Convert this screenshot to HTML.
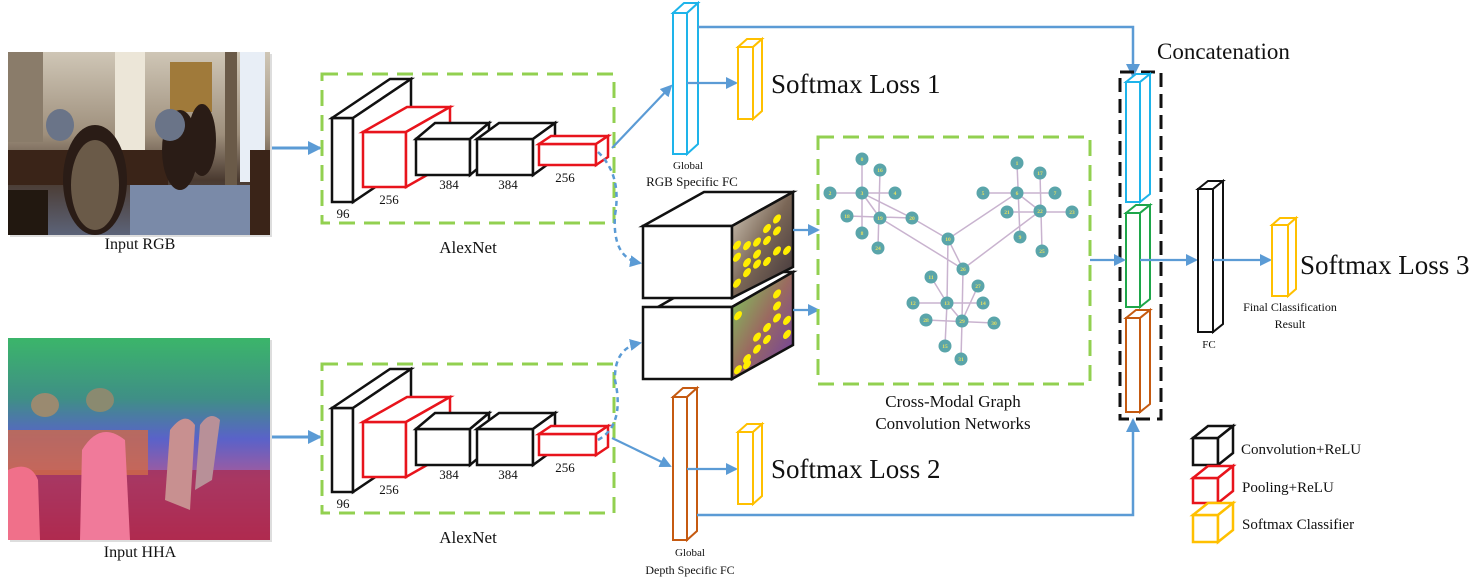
<!DOCTYPE html>
<html><head><meta charset="utf-8"><style>
html,body{margin:0;padding:0;background:#fff;}
svg{display:block;}
text{font-family:"Liberation Serif",serif;fill:#111;}
.s{font-family:"Liberation Serif",serif;}
</style></head><body>
<svg width="1478" height="579" viewBox="0 0 1478 579" xmlns="http://www.w3.org/2000/svg">
<defs>
<marker id="ar" markerWidth="12" markerHeight="12" refX="10" refY="6" orient="auto" markerUnits="userSpaceOnUse"><path d="M0,0 L12,6 L0,12 z" fill="#5b9bd5"/></marker>
<marker id="ar2" markerWidth="14" markerHeight="14" refX="12" refY="7" orient="auto" markerUnits="userSpaceOnUse"><path d="M0,0 L14,7 L0,14 z" fill="#5b9bd5"/></marker>
<linearGradient id="wall" x1="0" y1="0" x2="0" y2="1"><stop offset="0" stop-color="#cfc6b6"/><stop offset="0.45" stop-color="#9e8f7c"/><stop offset="0.7" stop-color="#4a3a30"/><stop offset="1" stop-color="#5c6378"/></linearGradient>
<linearGradient id="hha" x1="0" y1="0" x2="0" y2="1"><stop offset="0" stop-color="#3bb56a"/><stop offset="0.3" stop-color="#3f8f86"/><stop offset="0.5" stop-color="#5a62c9"/><stop offset="0.7" stop-color="#a85a9a"/><stop offset="1" stop-color="#c0305a"/></linearGradient>
<linearGradient id="hhaf" x1="0" y1="0" x2="1" y2="1"><stop offset="0" stop-color="#7bd25a"/><stop offset="0.5" stop-color="#9a6a60"/><stop offset="1" stop-color="#6a3aa8"/></linearGradient>
<linearGradient id="rgbf" x1="0" y1="0" x2="1" y2="1"><stop offset="0" stop-color="#d8d0c0"/><stop offset="0.5" stop-color="#7a6656"/><stop offset="1" stop-color="#3a3038"/></linearGradient>
</defs>

<!-- Input RGB photo -->
<rect x="10" y="54" width="262" height="183" fill="#ddd"/>
<rect x="8" y="52" width="262" height="183" fill="url(#wall)"/>
<rect x="8" y="52" width="35" height="90" fill="#8a7c6a"/>
<rect x="115" y="52" width="30" height="110" fill="#ece6d8"/>
<rect x="225" y="52" width="12" height="150" fill="#6a5a48"/>
<rect x="240" y="52" width="25" height="130" fill="#e8eef6"/>
<rect x="170" y="62" width="42" height="50" fill="#a07a3a"/>
<rect x="8" y="150" width="160" height="35" fill="#3a2418"/>
<rect x="130" y="185" width="120" height="50" fill="#7a8aa8"/>
<ellipse cx="95" cy="180" rx="32" ry="55" fill="#2a1c16"/>
<ellipse cx="95" cy="185" rx="24" ry="45" fill="#6a5a48"/>
<ellipse cx="180" cy="150" rx="18" ry="40" fill="#2a1c16"/>
<ellipse cx="202" cy="140" rx="14" ry="36" fill="#2a1c16"/>
<ellipse cx="60" cy="125" rx="14" ry="16" fill="#6a7488"/>
<ellipse cx="170" cy="125" rx="15" ry="16" fill="#6a7488"/>
<rect x="8" y="190" width="40" height="45" fill="#221810"/>
<rect x="250" y="150" width="20" height="85" fill="#3a2418"/>
<text x="140" y="249" font-size="16" text-anchor="middle">Input RGB</text>

<!-- Input HHA photo -->
<rect x="10" y="340" width="262" height="202" fill="#ddd"/>
<rect x="8" y="338" width="262" height="202" fill="url(#hha)"/>
<rect x="8" y="470" width="262" height="70" fill="#a8284a" opacity="0.7"/>
<rect x="8" y="430" width="140" height="45" fill="#d06a48" opacity="0.8"/>
<path d="M80,540 L82,450 Q100,420 125,440 L130,540 z" fill="#f07a9a"/>
<path d="M8,470 Q30,460 38,480 L40,540 L8,540 z" fill="#f0708a"/>
<path d="M165,500 L170,430 Q185,410 195,425 L190,510 z" fill="#c89090"/>
<path d="M195,490 L200,425 Q210,410 220,420 L212,480 z" fill="#b89098"/>
<ellipse cx="45" cy="405" rx="14" ry="12" fill="#9a8a70"/>
<ellipse cx="100" cy="400" rx="14" ry="12" fill="#8a8a70"/>
<text x="140" y="557" font-size="16" text-anchor="middle">Input HHA</text>

<!-- input arrows -->
<line x1="272" y1="148" x2="320" y2="148" stroke="#5b9bd5" stroke-width="3" marker-end="url(#ar2)"/>
<line x1="272" y1="437" x2="320" y2="437" stroke="#5b9bd5" stroke-width="3" marker-end="url(#ar2)"/>

<!-- AlexNet top -->
<g id="alex">
<rect x="322" y="74" width="292" height="149" fill="none" stroke="#92d050" stroke-width="3" stroke-dasharray="16 9"/>
<g fill="#fff" stroke-width="2.5" stroke-linejoin="miter">
<g stroke="#111"><rect x="332" y="118" width="21" height="84"/><polygon points="332,118 390,79 411,79 353,118"/><polygon points="353,118 411,79 411,163 353,202"/></g>
<g stroke="#e8141c"><rect x="363" y="132" width="43" height="55"/><polygon points="363,132 407,107 450,107 406,132"/><polygon points="406,132 450,107 450,162 406,187"/></g>
<g stroke="#111"><rect x="416" y="139" width="54" height="36"/><polygon points="416,139 435,123 489,123 470,139"/><polygon points="470,139 489,123 489,159 470,175"/></g>
<g stroke="#111"><rect x="477" y="139" width="56" height="36"/><polygon points="477,139 499,123 555,123 533,139"/><polygon points="533,139 555,123 555,159 533,175"/></g>
<g stroke="#e8141c"><rect x="539" y="144" width="57" height="21"/><polygon points="539,144 551,136 608,136 596,144"/><polygon points="596,144 608,136 608,157 596,165"/></g>
</g>
<g font-size="13" text-anchor="middle">
<text x="343" y="218">96</text><text x="389" y="204">256</text><text x="449" y="189">384</text><text x="508" y="189">384</text><text x="565" y="182">256</text>
</g>
<text x="468" y="253" font-size="17" text-anchor="middle">AlexNet</text>
</g>
<use href="#alex" transform="translate(0,290)"/>

<!-- arrows to FCs -->
<line x1="612" y1="148" x2="671" y2="86" stroke="#5b9bd5" stroke-width="2.2" marker-end="url(#ar)"/>
<line x1="612" y1="438" x2="670" y2="466" stroke="#5b9bd5" stroke-width="2.2" marker-end="url(#ar)"/>

<!-- dashed curves -->
<path d="M598,152 Q622,175 615,215 Q612,258 640,263" fill="none" stroke="#5b9bd5" stroke-width="2.5" stroke-dasharray="5 4" marker-end="url(#ar)"/>
<path d="M598,440 Q625,425 615,380 Q614,348 640,343" fill="none" stroke="#5b9bd5" stroke-width="2.5" stroke-dasharray="5 4" marker-end="url(#ar)"/>

<!-- Blue FC top -->
<g fill="#fff" stroke="#1eb4ea" stroke-width="2"><rect x="673" y="13" width="14" height="141"/><polygon points="673,13 684,3 698,3 687,13"/><polygon points="687,13 698,3 698,144 687,154"/></g>
<text x="688" y="169" font-size="11" text-anchor="middle">Global</text>
<text x="692" y="186" font-size="13" text-anchor="middle">RGB Specific FC</text>
<line x1="687" y1="83" x2="736" y2="83" stroke="#5b9bd5" stroke-width="2.2" marker-end="url(#ar)"/>
<g fill="#fff" stroke="#ffc000" stroke-width="2"><rect x="738" y="47" width="15" height="72"/><polygon points="738,47 747,39 762,39 753,47"/><polygon points="753,47 762,39 762,111 753,119"/></g>
<text x="771" y="93" font-size="27" class="s">Softmax  Loss 1</text>
<polyline points="698,27 1133,27 1133,76" fill="none" stroke="#5b9bd5" stroke-width="2.5" marker-end="url(#ar2)"/>

<!-- Orange FC bottom -->
<g fill="#fff" stroke="#c55a11" stroke-width="2"><rect x="673" y="397" width="14" height="143"/><polygon points="673,397 683,388 697,388 687,397"/><polygon points="687,397 697,388 697,531 687,540"/></g>
<text x="690" y="556" font-size="11" text-anchor="middle">Global</text>
<text x="690" y="574" font-size="12" text-anchor="middle">Depth Specific FC</text>
<line x1="687" y1="469" x2="736" y2="469" stroke="#5b9bd5" stroke-width="2.2" marker-end="url(#ar)"/>
<g fill="#fff" stroke="#ffc000" stroke-width="2"><rect x="738" y="432" width="15" height="72"/><polygon points="738,432 747,424 762,424 753,432"/><polygon points="753,432 762,424 762,496 753,504"/></g>
<text x="771" y="478" font-size="27" class="s">Softmax  Loss 2</text>
<polyline points="697,515 1133,515 1133,420" fill="none" stroke="#5b9bd5" stroke-width="2.5" marker-end="url(#ar2)"/>

<!-- middle feature cubes -->
<g stroke="#111" stroke-width="2.5" fill="#fff">
<polygon points="658,307 719,272 793,272 732,307"/>
<rect x="643" y="307" width="89" height="72"/>
<polygon points="732,307 793,272 793,345 732,379" fill="url(#hhaf)"/>
<polygon points="643,226 704,192 793,192 732,226"/>
<rect x="643" y="226" width="89" height="72"/>
<polygon points="732,226 793,192 793,267 732,298" fill="url(#rgbf)"/>
</g>
<g fill="#ffee00">
<g transform="matrix(1,-0.557,0,1,732,226)">
<circle cx="5" cy="22" r="4"/><circle cx="5" cy="34" r="4"/><circle cx="15" cy="28" r="4"/><circle cx="25" cy="30" r="4"/><circle cx="35" cy="22" r="4"/><circle cx="35" cy="34" r="4"/><circle cx="45" cy="30" r="4"/><circle cx="45" cy="18" r="4"/><circle cx="5" cy="60" r="4"/><circle cx="15" cy="55" r="4"/><circle cx="25" cy="52" r="4"/><circle cx="35" cy="55" r="4"/><circle cx="45" cy="50" r="4"/><circle cx="55" cy="55" r="4"/><circle cx="25" cy="42" r="4"/><circle cx="15" cy="45" r="4"/>
</g>
<g transform="matrix(1,-0.557,0,1,732,307)">
<circle cx="6" cy="12" r="4"/><circle cx="45" cy="12" r="4"/><circle cx="45" cy="24" r="4"/><circle cx="45" cy="36" r="4"/><circle cx="35" cy="40" r="4"/><circle cx="25" cy="44" r="4"/><circle cx="35" cy="52" r="4"/><circle cx="25" cy="56" r="4"/><circle cx="15" cy="60" r="4"/><circle cx="55" cy="44" r="4"/><circle cx="6" cy="66" r="4"/><circle cx="15" cy="66" r="4"/><circle cx="55" cy="58" r="4"/>
</g>
</g>
<line x1="793" y1="230" x2="818" y2="230" stroke="#5b9bd5" stroke-width="2.2" marker-end="url(#ar)"/>
<line x1="793" y1="310" x2="818" y2="310" stroke="#5b9bd5" stroke-width="2.2" marker-end="url(#ar)"/>

<!-- Graph box -->
<rect x="818" y="137" width="272" height="247" fill="none" stroke="#92d050" stroke-width="3" stroke-dasharray="16 9"/>
<g stroke="#c9b3cf" stroke-width="1.5">
<line x1="862" y1="159" x2="862" y2="233"/><line x1="830" y1="193" x2="895" y2="193"/>
<line x1="880" y1="170" x2="878" y2="248"/><line x1="847" y1="216" x2="912" y2="218"/>
<line x1="862" y1="193" x2="880" y2="218"/><line x1="862" y1="193" x2="912" y2="218"/>
<line x1="880" y1="218" x2="963" y2="269"/><line x1="912" y1="218" x2="948" y2="239"/>
<line x1="948" y1="239" x2="1017" y2="193"/><line x1="1017" y1="163" x2="1020" y2="237"/>
<line x1="983" y1="193" x2="1055" y2="193"/><line x1="1017" y1="193" x2="1040" y2="211"/>
<line x1="1007" y1="212" x2="1072" y2="212"/><line x1="1040" y1="173" x2="1042" y2="251"/>
<line x1="1040" y1="211" x2="963" y2="269"/><line x1="948" y1="239" x2="947" y2="303"/>
<line x1="948" y1="239" x2="963" y2="269"/><line x1="963" y1="269" x2="962" y2="321"/>
<line x1="931" y1="277" x2="947" y2="303"/><line x1="913" y1="303" x2="983" y2="303"/>
<line x1="947" y1="303" x2="962" y2="321"/><line x1="926" y1="320" x2="994" y2="323"/>
<line x1="947" y1="303" x2="945" y2="346"/><line x1="962" y1="321" x2="961" y2="359"/>
<line x1="978" y1="286" x2="962" y2="321"/>
</g>
<g fill="#5aa5aa">
<circle cx="862" cy="159" r="6.5"/><circle cx="880" cy="170" r="6.5"/><circle cx="862" cy="193" r="6.5"/><circle cx="830" cy="193" r="6.5"/><circle cx="895" cy="193" r="6.5"/><circle cx="847" cy="216" r="6.5"/><circle cx="880" cy="218" r="6.5"/><circle cx="912" cy="218" r="6.5"/><circle cx="862" cy="233" r="6.5"/><circle cx="878" cy="248" r="6.5"/>
<circle cx="1017" cy="163" r="6.5"/><circle cx="1040" cy="173" r="6.5"/><circle cx="983" cy="193" r="6.5"/><circle cx="1017" cy="193" r="6.5"/><circle cx="1055" cy="193" r="6.5"/><circle cx="1007" cy="212" r="6.5"/><circle cx="1040" cy="211" r="6.5"/><circle cx="1072" cy="212" r="6.5"/><circle cx="1020" cy="237" r="6.5"/><circle cx="1042" cy="251" r="6.5"/>
<circle cx="948" cy="239" r="6.5"/><circle cx="963" cy="269" r="6.5"/><circle cx="931" cy="277" r="6.5"/><circle cx="978" cy="286" r="6.5"/><circle cx="913" cy="303" r="6.5"/><circle cx="947" cy="303" r="6.5"/><circle cx="983" cy="303" r="6.5"/><circle cx="926" cy="320" r="6.5"/><circle cx="962" cy="321" r="6.5"/><circle cx="994" cy="323" r="6.5"/><circle cx="945" cy="346" r="6.5"/><circle cx="961" cy="359" r="6.5"/>
</g>
<g font-size="5.5" text-anchor="middle" font-weight="bold">
<text x="862" y="161" style="fill:#e8e060">0</text><text x="880" y="172" style="fill:#e8e060">16</text><text x="862" y="195" style="fill:#e8e060">3</text><text x="830" y="195" style="fill:#e8e060">2</text><text x="895" y="195" style="fill:#e8e060">4</text><text x="847" y="218" style="fill:#e8e060">18</text><text x="880" y="220" style="fill:#e8e060">19</text><text x="912" y="220" style="fill:#e8e060">20</text><text x="862" y="235" style="fill:#e8e060">8</text><text x="878" y="250" style="fill:#e8e060">24</text>
<text x="1017" y="165" style="fill:#e8e060">1</text><text x="1040" y="175" style="fill:#e8e060">17</text><text x="983" y="195" style="fill:#e8e060">5</text><text x="1017" y="195" style="fill:#e8e060">6</text><text x="1055" y="195" style="fill:#e8e060">7</text><text x="1007" y="214" style="fill:#e8e060">21</text><text x="1040" y="213" style="fill:#e8e060">22</text><text x="1072" y="214" style="fill:#e8e060">23</text><text x="1020" y="239" style="fill:#e8e060">9</text><text x="1042" y="253" style="fill:#e8e060">25</text>
<text x="948" y="241" style="fill:#e8e060">10</text><text x="963" y="271" style="fill:#e8e060">26</text><text x="931" y="279" style="fill:#e8e060">11</text><text x="978" y="288" style="fill:#e8e060">27</text><text x="913" y="305" style="fill:#e8e060">12</text><text x="947" y="305" style="fill:#e8e060">13</text><text x="983" y="305" style="fill:#e8e060">14</text><text x="926" y="322" style="fill:#e8e060">28</text><text x="962" y="323" style="fill:#e8e060">29</text><text x="994" y="325" style="fill:#e8e060">30</text><text x="945" y="348" style="fill:#e8e060">15</text><text x="961" y="361" style="fill:#e8e060">31</text>
</g>
<text x="953" y="407" font-size="17" text-anchor="middle">Cross-Modal Graph</text>
<text x="953" y="429" font-size="17" text-anchor="middle">Convolution Networks</text>

<!-- Concatenation -->
<text x="1157" y="59" font-size="23">Concatenation</text>
<rect x="1120" y="72" width="41" height="347" fill="none" stroke="#111" stroke-width="3" stroke-dasharray="14 7"/>
<g fill="#fff" stroke-width="2">
<g stroke="#1eb4ea"><rect x="1126" y="82" width="14" height="120"/><polygon points="1126,82 1136,74 1150,74 1140,82"/><polygon points="1140,82 1150,74 1150,194 1140,202"/></g>
<g stroke="#1ea64a"><rect x="1126" y="213" width="14" height="94"/><polygon points="1126,213 1136,205 1150,205 1140,213"/><polygon points="1140,213 1150,205 1150,299 1140,307"/></g>
<g stroke="#c55a11"><rect x="1126" y="318" width="14" height="94"/><polygon points="1126,318 1136,310 1150,310 1140,318"/><polygon points="1140,318 1150,310 1150,404 1140,412"/></g>
</g>
<line x1="1090" y1="260" x2="1124" y2="260" stroke="#5b9bd5" stroke-width="2.2" marker-end="url(#ar)"/>
<line x1="1140" y1="260" x2="1196" y2="260" stroke="#5b9bd5" stroke-width="2.2" marker-end="url(#ar)"/>
<g fill="#fff" stroke="#111" stroke-width="2"><rect x="1198" y="189" width="15" height="143"/><polygon points="1198,189 1208,181 1223,181 1213,189"/><polygon points="1213,189 1223,181 1223,324 1213,332"/></g>
<text x="1209" y="348" font-size="11" text-anchor="middle">FC</text>
<line x1="1213" y1="260" x2="1270" y2="260" stroke="#5b9bd5" stroke-width="2.2" marker-end="url(#ar)"/>
<g fill="#fff" stroke="#ffc000" stroke-width="2"><rect x="1272" y="225" width="16" height="71"/><polygon points="1272,225 1280,218 1296,218 1288,225"/><polygon points="1288,225 1296,218 1296,289 1288,296"/></g>
<text x="1300" y="274" font-size="27" class="s">Softmax  Loss 3</text>
<text x="1290" y="311" font-size="12" text-anchor="middle">Final Classification</text>
<text x="1290" y="328" font-size="12" text-anchor="middle">Result</text>

<!-- Legend -->
<g fill="#fff" stroke-width="2.5">
<g stroke="#111"><rect x="1193" y="438" width="25" height="27"/><polygon points="1193,438 1208,426 1233,426 1218,438"/><polygon points="1218,438 1233,426 1233,453 1218,465"/></g>
<g stroke="#e8141c"><rect x="1193" y="478" width="25" height="25"/><polygon points="1193,478 1208,466 1233,466 1218,478"/><polygon points="1218,478 1233,466 1233,491 1218,503"/></g>
<g stroke="#ffc000"><rect x="1193" y="515" width="25" height="27"/><polygon points="1193,515 1208,503 1233,503 1218,515"/><polygon points="1218,515 1233,503 1233,530 1218,542"/></g>
</g>
<text x="1241" y="454" font-size="15">Convolution+ReLU</text>
<text x="1242" y="492" font-size="15">Pooling+ReLU</text>
<text x="1242" y="529" font-size="15">Softmax Classifier</text>
</svg>
</body></html>
